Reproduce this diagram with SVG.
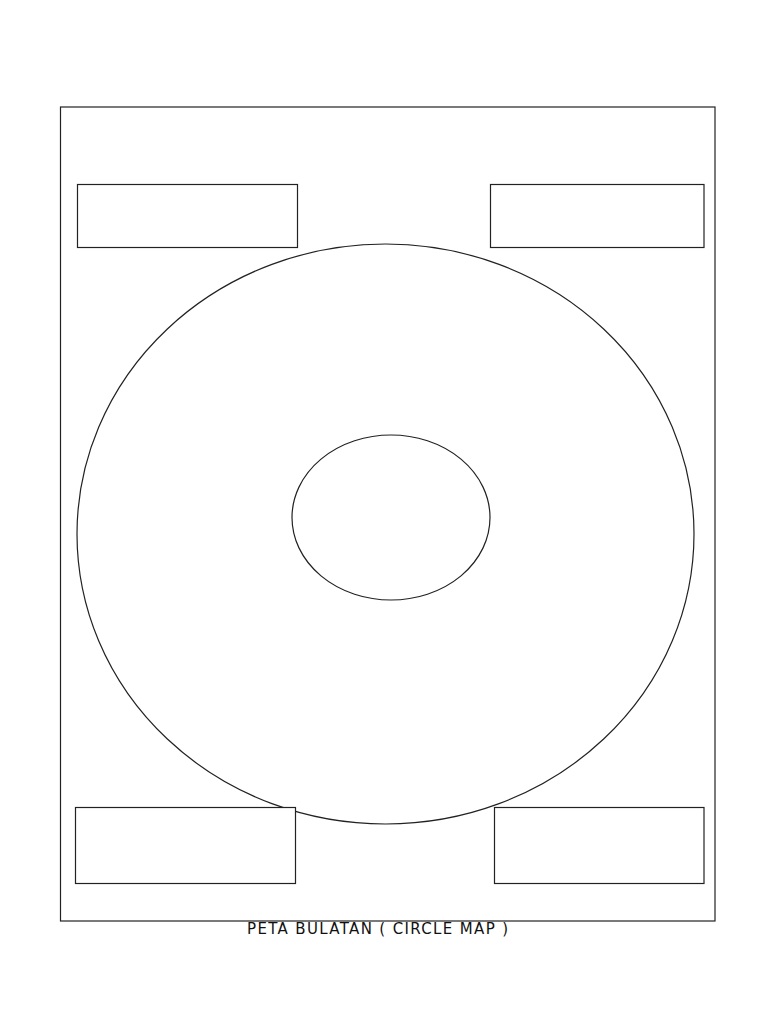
<svg xmlns="http://www.w3.org/2000/svg" width="768" height="1024" viewBox="0 0 768 1024">
<style>
.s{fill:#fff;stroke:#222;stroke-width:1.2}
.t{font-family:"DejaVu Sans",sans-serif;font-size:15px;fill:#111}
</style>
<rect width="768" height="1024" fill="#fff"/>
<g id="frame"><rect class="s" x="60.5" y="107" width="654.5" height="814"/></g>
<g id="outer-circle"><ellipse class="s" cx="385.5" cy="534" rx="308.5" ry="290"/></g>
<g id="inner-circle"><ellipse class="s" cx="391" cy="517.5" rx="99" ry="82.5"/></g>
<g id="box-top-left"><rect class="s" x="77.5" y="184.5" width="220" height="63"/></g>
<g id="box-top-right"><rect class="s" x="490.5" y="184.5" width="213.5" height="63"/></g>
<g id="box-bottom-left"><rect class="s" x="75.5" y="807.5" width="220" height="76"/></g>
<g id="box-bottom-right"><rect class="s" x="494.5" y="807.5" width="209.5" height="76"/></g>
<g id="connectors"/>
<g id="caption"><text class="t" x="247" y="933.5" textLength="261" lengthAdjust="spacing">PETA BULATAN ( CIRCLE MAP )</text></g>
</svg>
